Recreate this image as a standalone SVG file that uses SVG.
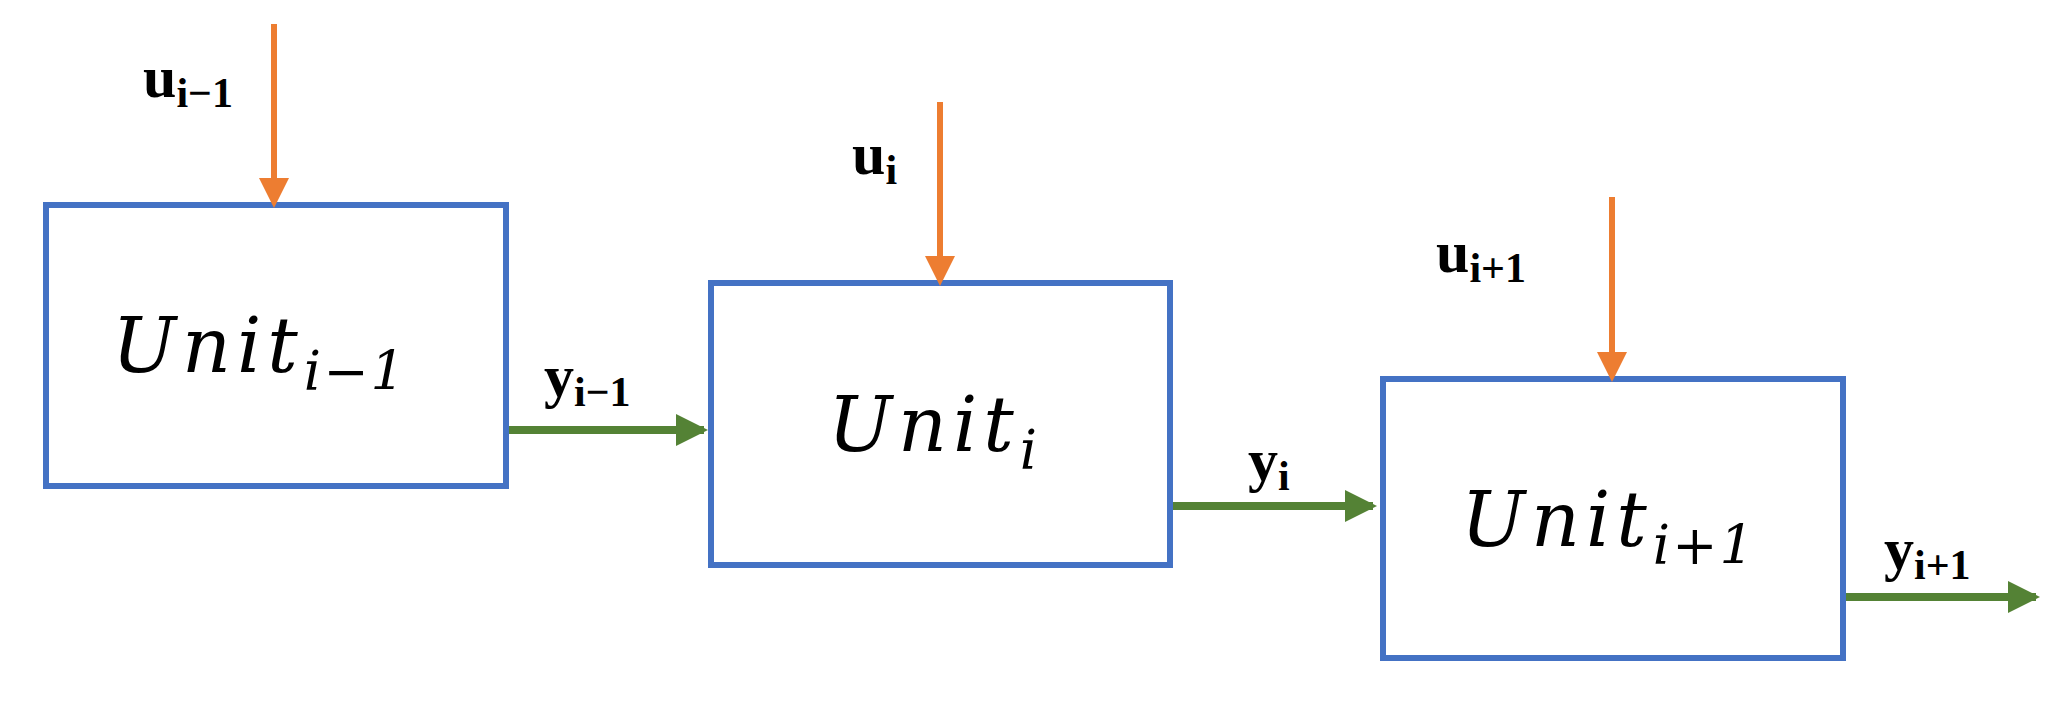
<svg xmlns="http://www.w3.org/2000/svg" width="2072" height="705" viewBox="0 0 2072 705">
<style>
.box{fill:#fff;stroke:#4472C4;stroke-width:6}
.u{stroke:#ED7D31;stroke-width:6;fill:none}
.y{stroke:#548235;stroke-width:8;fill:none}
.lab{font-family:"Liberation Serif",serif;font-weight:bold;font-size:60px;fill:#000}
.sub{font-size:42px}
.unit{font-family:"DejaVu Serif","Liberation Serif",serif;font-style:italic;font-size:76px;letter-spacing:6px;fill:#000}
.us{font-size:54px;letter-spacing:2px}
</style>
<defs>
<marker id="ao" markerWidth="5" markerHeight="5" refX="4" refY="2.5" orient="auto" markerUnits="strokeWidth"><path d="M0,0L5,2.5L0,5z" fill="#ED7D31"/></marker>
<marker id="ag" markerWidth="4" markerHeight="4" refX="3.5" refY="2" orient="auto" markerUnits="strokeWidth"><path d="M0,0L4,2L0,4z" fill="#548235"/></marker>
</defs>
<g id="node-unit-im1"><rect class="box" x="46" y="205" width="460" height="281"/><text class="unit" x="112" y="372">Unit<tspan class="us" dy="18">i−1</tspan></text></g>
<g id="node-unit-i"><rect class="box" x="711" y="283" width="459" height="282"/><text class="unit" x="828" y="451">Unit<tspan class="us" dy="18">i</tspan></text></g>
<g id="node-unit-ip1"><rect class="box" x="1383" y="379" width="460" height="279"/><text class="unit" x="1461" y="546">Unit<tspan class="us" dy="18">i+1</tspan></text></g>
<g id="connectors">
<line class="u" x1="274" y1="24" x2="274" y2="202" marker-end="url(#ao)"/>
<line class="u" x1="940" y1="102" x2="940" y2="280" marker-end="url(#ao)"/>
<line class="u" x1="1612" y1="197" x2="1612" y2="376" marker-end="url(#ao)"/>
<line class="y" x1="509" y1="430" x2="704" y2="430" marker-end="url(#ag)"/>
<line class="y" x1="1173" y1="506" x2="1373" y2="506" marker-end="url(#ag)"/>
<line class="y" x1="1846" y1="597" x2="2036" y2="597" marker-end="url(#ag)"/>
<text class="lab" x="143" y="97">u<tspan class="sub" dy="10">i−1</tspan></text>
<text class="lab" x="852" y="174">u<tspan class="sub" dy="10">i</tspan></text>
<text class="lab" x="1436" y="272">u<tspan class="sub" dy="10">i+1</tspan></text>
<text class="lab" x="544" y="396">y<tspan class="sub" dy="10">i−1</tspan></text>
<text class="lab" x="1248" y="480">y<tspan class="sub" dy="10">i</tspan></text>
<text class="lab" x="1884" y="569">y<tspan class="sub" dy="10">i+1</tspan></text>
</g>
</svg>
